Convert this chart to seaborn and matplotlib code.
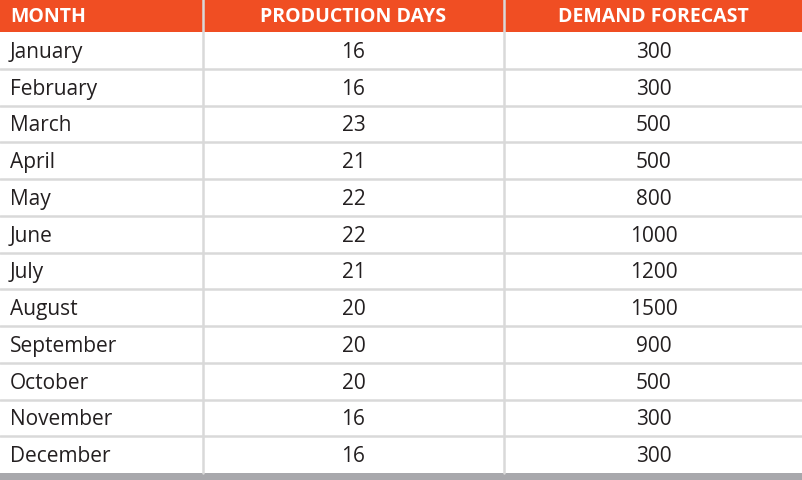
import matplotlib
matplotlib.use("Agg")
import matplotlib.pyplot as plt
import seaborn as sns
from matplotlib.patches import Rectangle

sns.set_theme(style="white")
plt.rcParams['font.family'] = ['Open Sans', 'DejaVu Sans']

headers = ["MONTH", "PRODUCTION DAYS", "DEMAND FORECAST"]
months = ["January", "February", "March", "April", "May", "June", "July",
          "August", "September", "October", "November", "December"]
production_days = [16, 16, 23, 21, 22, 22, 21, 20, 20, 20, 16, 16]
demand_forecast = [300, 300, 500, 500, 800, 1000, 1200, 1500, 900, 500, 300, 300]

W, H = 803, 481
fig = plt.figure(figsize=(W / 100, H / 100), dpi=100)
ax = fig.add_axes([0, 0, 1, 1])
ax.set_xlim(0, W)
ax.set_ylim(H, 0)
ax.axis("off")

orange = "#F04E23"
grid = "#D9D9D9"
head_h = 33
bottom = 474
row_h = (bottom - head_h) / len(months)
col_x = [0, 203, 504, W]

ax.add_patch(Rectangle((0, 0), W, head_h, color=orange, lw=0))
ax.add_patch(Rectangle((0, bottom), W, H - bottom, color="#A8A8AC", lw=0))
for x in col_x[1:-1]:
    ax.plot([x, x], [0, bottom], color=grid, lw=1.8)
for i in range(1, len(months)):
    y = head_h + i * row_h
    ax.plot([0, W], [y, y], color=grid, lw=1.8)

ax.text(10, head_h / 2 + 1, headers[0], color="white", fontsize=14,
        fontweight="bold", va="center", ha="left")
for j in (1, 2):
    ax.text((col_x[j] + col_x[j + 1]) / 2, head_h / 2 + 1, headers[j], color="white",
            fontsize=14, fontweight="bold", va="center", ha="center")

for i, (m, p, d) in enumerate(zip(months, production_days, demand_forecast)):
    yc = head_h + (i + 0.5) * row_h + 1
    ax.text(10, yc, m, fontsize=15, color="#231F20", va="center", ha="left")
    ax.text((col_x[1] + col_x[2]) / 2, yc, str(p), fontsize=15, color="#231F20",
            va="center", ha="center")
    ax.text((col_x[2] + col_x[3]) / 2, yc, str(d), fontsize=15, color="#231F20",
            va="center", ha="center")

fig.savefig("out.png", dpi=100)
